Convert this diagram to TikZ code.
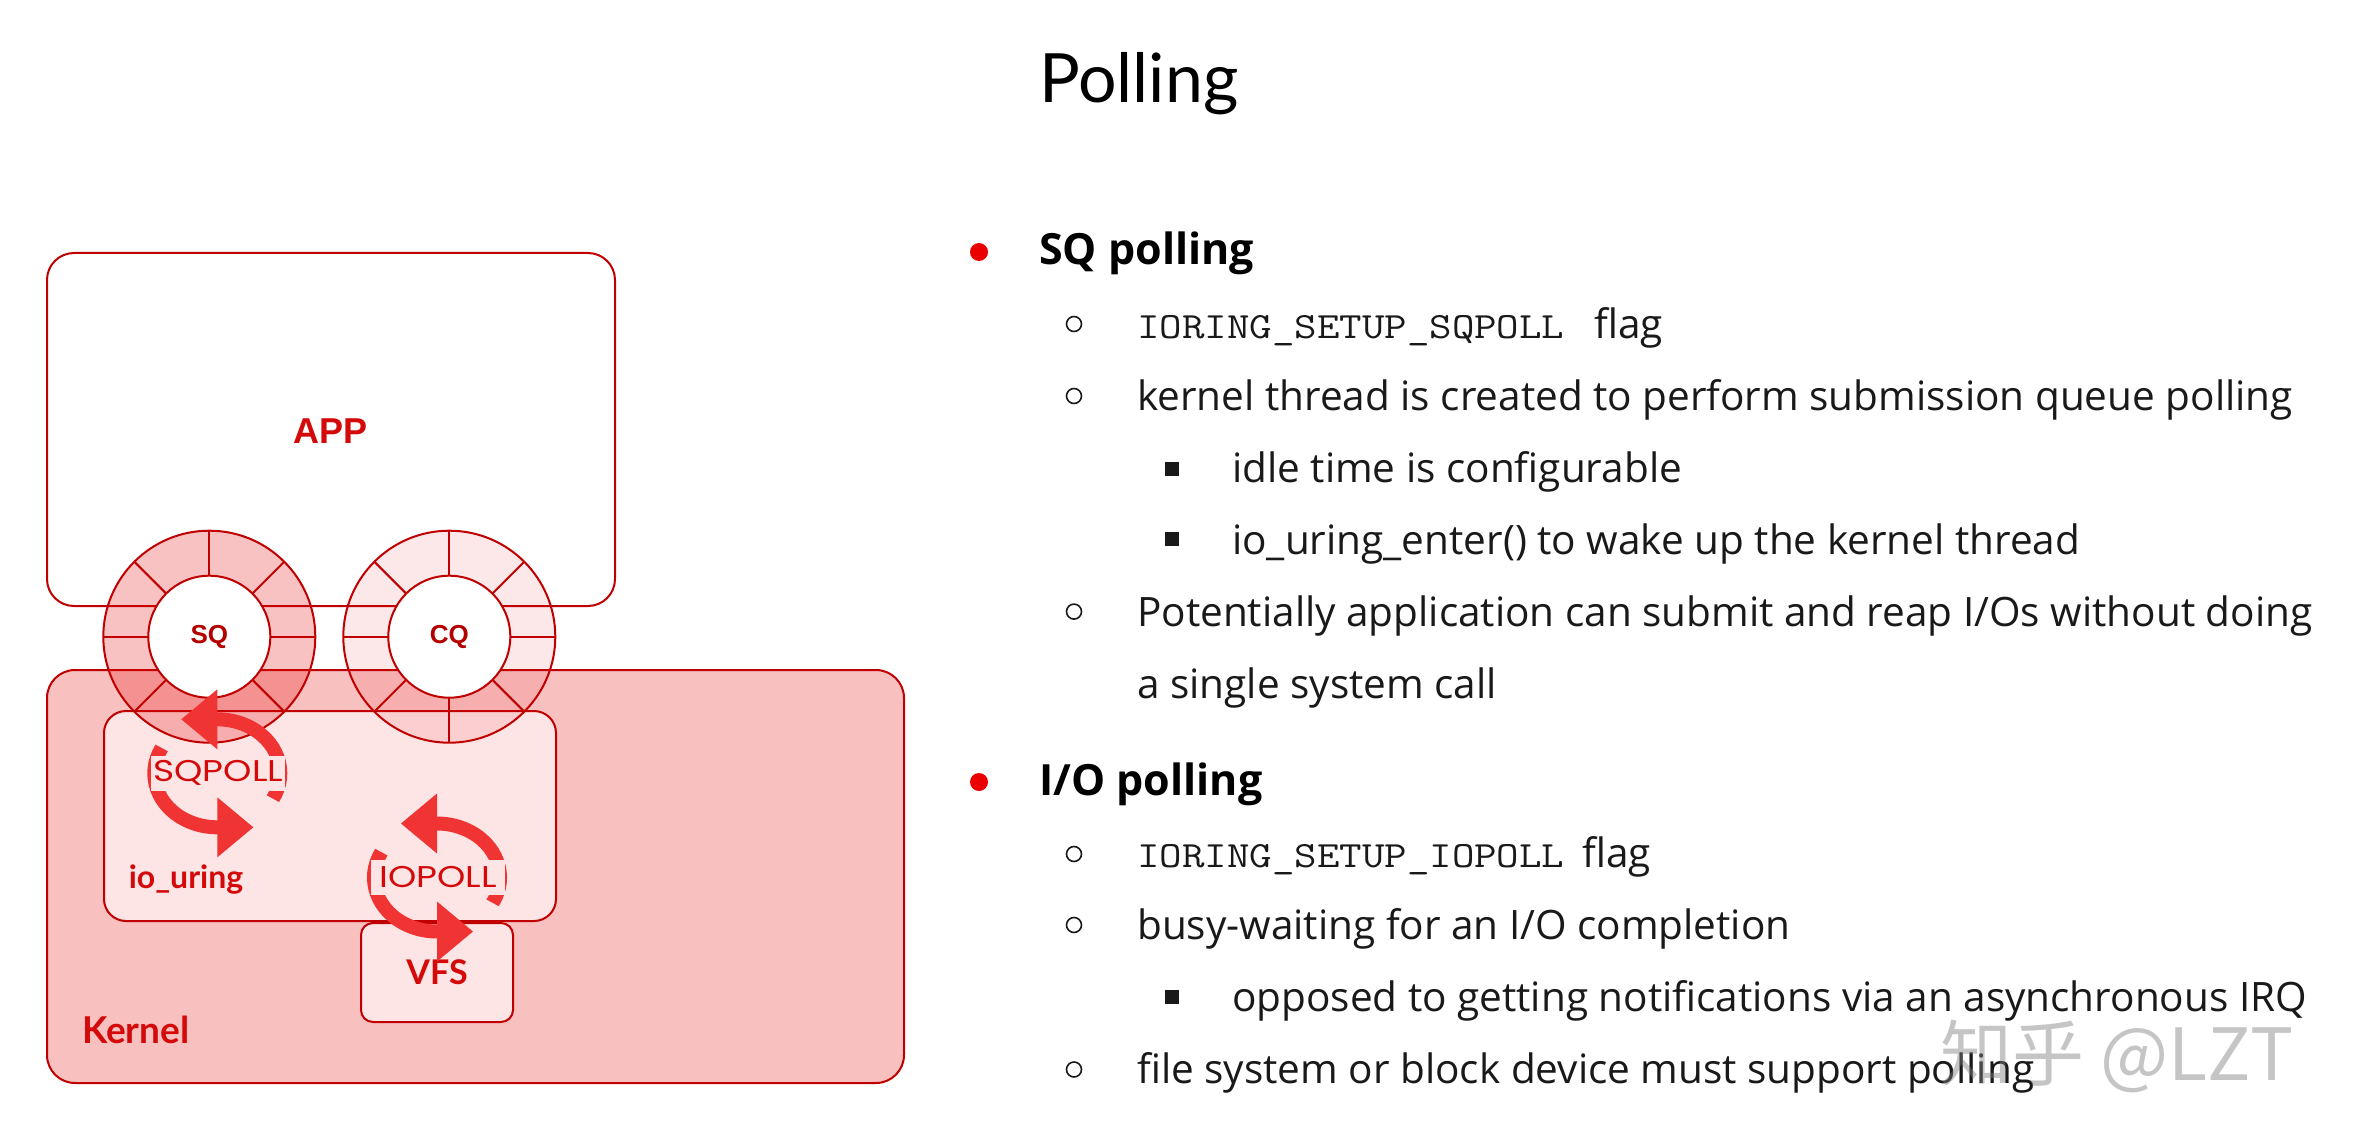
\documentclass[tikz,border=0pt]{standalone}
\usepackage{graphicx}
\usepackage{fontspec}
\setmainfont{Open Sans}
\newfontfamily\titlefont{Lato}
\newfontfamily\lblfont{Lato}
\newfontfamily\arialfont{Liberation Sans}
\newfontfamily\iconfont[FakeStretch=1.2]{Poppins}
\newfontfamily\cjkfont{Noto Sans CJK SC}
\definecolor{linered}{RGB}{192,0,0}
\definecolor{kernelfill}{RGB}{249,192,192}
\definecolor{ioufill}{RGB}{253,228,229}
\definecolor{ringred}{RGB}{232,0,0}
\definecolor{arrowred}{RGB}{240,52,52}
\definecolor{labelred}{RGB}{212,10,10}
\definecolor{qred}{RGB}{180,0,0}
\definecolor{bulletred}{RGB}{235,0,0}
\definecolor{bodytext}{RGB}{25,25,25}
\tikzset{
  box/.style={draw=linered, line width=2pt, rounded corners=#1, inner sep=0pt},
  ringline/.style={draw=linered, line width=2pt},
  lbl/.style={inner sep=0pt, text=labelred, font=\lblfont\bfseries\fontsize{32}{36}\selectfont},
  body/.style={anchor=base west, inner sep=0pt, text=bodytext, font=\fontsize{40.5}{44}\selectfont},
  head/.style={anchor=base west, inner sep=0pt, text=black, font=\bfseries\fontsize{43}{46}\selectfont},
  dotA/.style={fill=bulletred},
  dotB/.style={draw=bodytext, line width=1.6pt},
  dotC/.style={fill=bodytext},
}
\newcommand\monotext[1]{\scalebox{1.18}[1]{\ttfamily\fontsize{37}{44}\selectfont #1}}
\newcommand\qring[5]{%
  \fill[ringred, fill opacity=#3, even odd rule] (#1,#2) circle[radius=106pt] (#1,#2) circle[radius=61pt];
  \foreach \a in {0,45,...,315} \draw[ringline] (#1,#2) ++(\a:61pt) -- ++(\a:45pt);
  \draw[ringline] (#1,#2) circle[radius=106pt];
  \node[circle, draw=linered, line width=2pt, fill=white, minimum size=122pt, inner sep=0pt,
        text=qred, font=\arialfont\bfseries\fontsize{26}{30}\selectfont] (#4) at (#1,#2) {#5};
}
\newcommand\pollicon[4]{%
  \begin{scope}[shift={(#1,#2)}]
    \draw[arrowred, line width=14pt] (-28:63pt and 54pt) arc[start angle=-28, end angle=92, x radius=63pt, y radius=54pt];
    \fill[arrowred] (0pt,84pt) -- (-36pt,54pt) -- (0pt,24pt) -- cycle;
    \draw[arrowred, line width=14pt] (152:63pt and 54pt) arc[start angle=152, end angle=272, x radius=63pt, y radius=54pt];
    \fill[arrowred] (0pt,-84pt) -- (36pt,-54pt) -- (0pt,-24pt) -- cycle;
    \node[fill=ioufill, minimum width=134pt, minimum height=35pt, inner sep=0pt, text=labelred,
          font=\iconfont\fontsize{30}{32}\selectfont] (#4) at (1pt,0pt) {#3};
  \end{scope}
}
\begin{document}
\begin{tikzpicture}[x=1pt, y=-1pt]
\useasboundingbox (0,0) rectangle (2362,1142);
\fill[white] (0,0) rectangle (2362,1142);

% boxes
\node[box=27pt, fill=white, minimum width=568pt, minimum height=353pt] (app) at (331,429.5) {};
\node[box=28pt, fill=kernelfill, minimum width=857pt, minimum height=413pt] (kernel) at (475.5,876.5) {};
\node[box=22pt, fill=ioufill, minimum width=452pt, minimum height=210pt] (iouring) at (330,816) {};
\node[box=12pt, fill=ioufill, minimum width=152pt, minimum height=99pt] (vfs) at (437,972.5) {};

% rings
\qring{209.3}{636.7}{0.24}{sq}{SQ}
\qring{449.3}{636.7}{0.09}{cq}{CQ}

% labels
\node[inner sep=0pt, text=labelred, font=\arialfont\bfseries\fontsize{36}{40}\selectfont] (applbl) at (331,431) {APP};
\node[lbl, anchor=base] (ioulbl) at (186,888) {io\_uring};
\node[lbl, anchor=base, font=\lblfont\bfseries\fontsize{34}{38}\selectfont] (vfslbl) at (437,984) {VFS};
\node[lbl, anchor=base west, font=\lblfont\bfseries\fontsize{37}{40}\selectfont] (kernlbl) at (82,1043) {Kernel};

% polling icons
\pollicon{217.3}{773.3}{SQPOLL}{sqpoll}
\pollicon{437}{877.5}{IOPOLL}{iopoll}

% right side text
\node[anchor=base west, inner sep=0pt, text=black, font=\titlefont\fontsize{68}{72}\selectfont] (title) at (1039,103) {Polling};

\fill[dotA] (979,252) circle[radius=9pt];
\node[head] (h1) at (1039,265) {SQ polling};
\draw[dotB] (1074,324) circle[radius=7.5pt];
\node[body] (t1) at (1137,338) {\monotext{IORING\_SETUP\_SQPOLL}\hspace{30pt}flag};
\draw[dotB] (1074,396) circle[radius=7.5pt];
\node[body] (t2) at (1137,410) {kernel thread is created to perform submission queue polling};
\fill[dotC] (1165,461.5) rectangle (1179,475.5);
\node[body] (t3) at (1232,482) {idle time is configurable};
\fill[dotC] (1165,532) rectangle (1179,546);
\node[body] (t4) at (1232,554) {io\_uring\_enter() to wake up the kernel thread};
\draw[dotB] (1074,611.6) circle[radius=7.5pt];
\node[body] (t5) at (1137,626) {Potentially application can submit and reap I/Os without doing};
\node[body] (t6) at (1137,698) {a single system call};

\fill[dotA] (979,782) circle[radius=9pt];
\node[head] (h2) at (1039,795) {I/O polling};
\draw[dotB] (1074,854) circle[radius=7.5pt];
\node[body] (t7) at (1137,867) {\monotext{IORING\_SETUP\_IOPOLL}\hspace{18pt}flag};
\draw[dotB] (1074,925) circle[radius=7.5pt];
\node[body] (t8) at (1137,939) {busy-waiting for an I/O completion};
\fill[dotC] (1165,990) rectangle (1179,1004);
\node[body] (t9) at (1232,1011) {opposed to getting notifications via an asynchronous IRQ};
\draw[dotB] (1074,1069.5) circle[radius=7.5pt];
\node[body] (t10) at (1137,1083) {file system or block device must support polling};

% watermark
\node[anchor=base west, inner sep=0pt, text=gray, opacity=0.45, font=\cjkfont\fontsize{72}{72}\selectfont] (wm) at (1940,1080) {知乎 @LZT};
\end{tikzpicture}
\end{document}
